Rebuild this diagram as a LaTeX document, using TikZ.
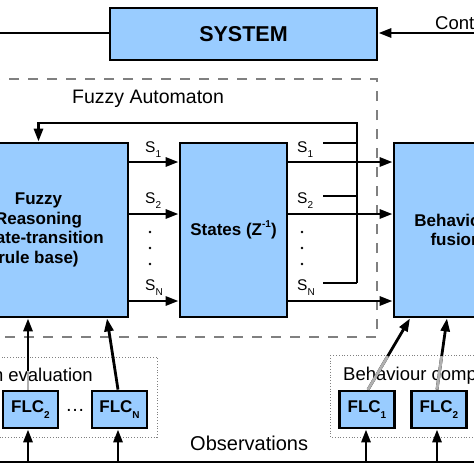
\documentclass[tikz,border=0pt]{standalone}
\usepackage{fontspec}
\setmainfont{Liberation Sans}
\usetikzlibrary{arrows.meta,calc}
\definecolor{boxblue}{HTML}{99CCFF}
\definecolor{dashgray}{HTML}{808080}
\definecolor{fadegray}{HTML}{B0B0B0}
\newcommand{\lsub}[1]{\raisebox{-0.38em}{\fontsize{10}{10}\selectfont #1}}
\newcommand{\lsup}[1]{\raisebox{0.48em}{\fontsize{10}{10}\selectfont #1}}
\begin{document}
\begin{tikzpicture}[x=1pt,y=-1pt,
  blk/.style={draw=black, line width=2.8pt, fill=boxblue, inner sep=0pt, align=center,
              font=\fontsize{17}{19.5}\selectfont\bfseries},
  flc/.style={blk, minimum width=55pt, minimum height=37pt},
  arr/.style={line width=2.8pt, -{Triangle[length=13pt,width=9pt]}},
  ln/.style={line width=2.8pt},
  frame/.style={draw=dashgray, line width=1.1pt, dash pattern=on 10pt off 9pt},
  dotbox/.style={draw=dashgray, line width=0.8pt, dotted},
  lbl/.style={inner sep=0pt, font=\fontsize{19.5}{22}\selectfont},
  slbl/.style={inner sep=0pt, font=\fontsize{15.5}{18}\selectfont},
]
\clip (0,0) rectangle (474,474);
\fill[white] (0,0) rectangle (474,474);

% fuzzy automaton frame
\draw[frame] (-60,79) rectangle (377,337);
\node[lbl, anchor=base west] (fa) at (72,103) {Fuzzy Automaton};

% dotted groups
\draw[dotbox] (-80,357) rectangle (157,437);
\node[lbl, font=\fontsize{18.5}{22}\selectfont, anchor=base east] (ce) at (93,381) {Condition evaluation};
\draw[dotbox] (330,355) rectangle (530,437);
\node[lbl, font=\fontsize{18.5}{22}\selectfont, anchor=base west] (bc) at (343,380) {Behaviour components};

% system
\node[blk, minimum width=267pt, minimum height=52pt, font=\fontsize{21.5}{24}\selectfont\bfseries] (sys) at (243.5,34) {SYSTEM};
\coordinate (lin) at (-10,33);
\coordinate (rin) at (490,33);
\draw[ln] (lin) -- (lin -| sys.west);
\draw[arr] (rin) -- (rin -| sys.east);
\node[lbl, font=\fontsize{18.5}{22}\selectfont, anchor=base west] (ctl) at (435,29) {Control};

% main blocks
\node[blk, minimum width=179pt, minimum height=174pt] (fr) at (38.5,230)
  {Fuzzy\\Reasoning\\(State-transition\\rule base)};
\node[blk, minimum width=107pt, minimum height=174pt] (st) at (233.5,230) {States (Z\lsup{-1})};
\node[blk, minimum width=124pt, minimum height=174pt] (bf) at (456,230) {Behaviour\\fusion};

% state signals
\coordinate (y1) at (0,162);
\coordinate (y2) at (0,214);
\coordinate (y3) at (0,301);
\foreach \y in {y1,y2,y3}{
  \draw[arr] (fr.east |- \y) -- (st.west |- \y);
  \draw[arr] (st.east |- \y) -- (bf.west |- \y);
}
\node[slbl, anchor=base west] (la1) at (145,152) {S\lsub{1}};
\node[slbl, anchor=base west] (la2) at (145,203) {S\lsub{2}};
\node[slbl, anchor=base west] (laN) at (145,290) {S\lsub{N}};
\node[slbl, anchor=base west] (lb1) at (297,152) {S\lsub{1}};
\node[slbl, anchor=base west] (lb2) at (297,203) {S\lsub{2}};
\node[slbl, anchor=base west] (lbN) at (297,290) {S\lsub{N}};
\foreach \yy in {232,248,264}{
  \fill (150,\yy) circle (1.3pt);
  \fill (302,\yy) circle (1.3pt);
}

% feedback
\coordinate (s1a) at (323,143);
\coordinate (s2a) at (323,196);
\coordinate (sNa) at (323,283);
\coordinate (fbx) at (357,0);
\coordinate (fbt) at (357,123);
\draw[ln] (s1a) -- (s1a -| fbx);
\draw[ln] (s2a) -- (s2a -| fbx);
\draw[ln] (sNa) -- (sNa -| fbx);
\draw[arr] (sNa -| fbx) -- (fbt) -| (fr.north);

% FLC blocks
\node[flc] (f2) at (30.5,409.5) {FLC\lsub{2}};
\node[lbl] (dots) at (75,410) {\dots};
\node[flc] (fn) at (119.5,409.5) {FLC\lsub{N}};
\node[flc] (r1) at (367,409.5) {FLC\lsub{1}};
\node[flc] (r2) at (439,409.5) {FLC\lsub{2}};

% observations
\coordinate (ol) at (-10,462);
\coordinate (or) at (490,462);
\draw[ln] (ol) -- (or);
\node[lbl, font=\fontsize{20}{22}\selectfont, anchor=base west] (obs) at (190,450) {Observations};

\coordinate (x2) at (28,0);
\coordinate (xn) at (118,0);
\coordinate (x1) at (366,0);
\coordinate (xr2) at (437,0);
\draw[arr] (ol -| x2) -- (f2.south -| x2);
\draw[arr] (ol -| xn) -- (fn.south -| xn);
\draw[arr] (ol -| x1) -- (r1.south -| x1);
\draw[arr] (ol -| xr2) -- (r2.south -| xr2);

% FLC outputs
\coordinate (tn) at (107,0);
\coordinate (t1) at (410,0);
\coordinate (t2) at (447,0);
\coordinate (o1) at (368,0);
\draw[arr] (f2.north -| x2) -- (fr.south -| x2);
\draw[arr] (fn.north -| xn) -- (fr.south -| tn);
\draw[arr] (r1.north -| o1) -- (bf.south -| t1);
\draw[arr] (r2.north -| xr2) -- (bf.south -| t2);

% faded segments inside the dotted groups
\draw[ln, fadegray] (28,371) -- (f2.north -| x2);
\draw[ln, fadegray] ($(r1.north -| o1)!0.47!(bf.south -| t1)$) -- (r1.north -| o1);
\draw[ln, fadegray] ($(r2.north -| xr2)!0.47!(bf.south -| t2)$) -- (r2.north -| xr2);
\end{tikzpicture}
\end{document}
